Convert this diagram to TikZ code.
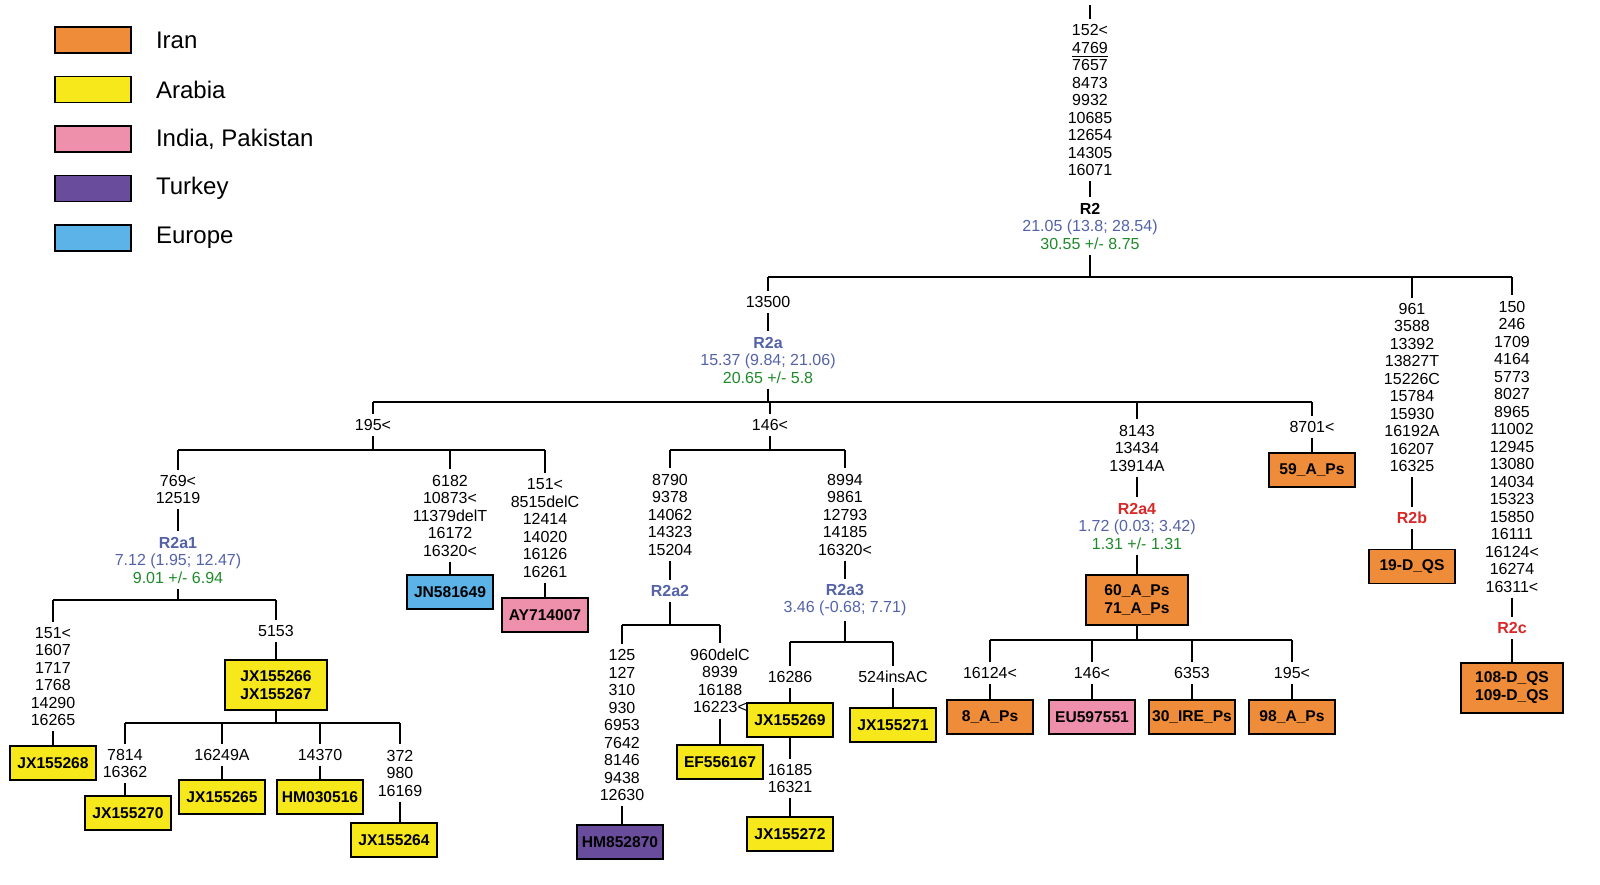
\documentclass[tikz,border=0pt]{standalone}
\usepackage{fontspec}
\setmainfont{Liberation Sans}
\usepackage{tikz}
\definecolor{iran}{HTML}{EE8C3A}
\definecolor{arabia}{HTML}{F7E81C}
\definecolor{india}{HTML}{EE90AC}
\definecolor{turkey}{HTML}{6A4C9C}
\definecolor{europe}{HTML}{5CB3E8}
\definecolor{statblue}{HTML}{5462A8}
\definecolor{statgreen}{HTML}{1F8A2A}
\definecolor{hapred}{HTML}{D82828}
\newcommand{\stats}[3]{#1\\\color{statblue}#2\\\color{statgreen}#3}
\begin{document}
\begin{tikzpicture}[x=0.5pt,y=-0.5pt,
  mut/.style={font=\fontsize{8}{8.75}\selectfont, align=center, inner sep=2pt},
  hap/.style={font=\fontsize{8}{8.75}\selectfont\bfseries, align=center, inner sep=2pt},
  box/.style={draw, thick, font=\fontsize{7.8}{9}\selectfont\bfseries, align=center,
    minimum width=43pt, minimum height=17pt, inner sep=1pt},
  leg/.style={draw, thick, minimum width=38pt, minimum height=13pt},
  every path/.style={line width=1.4pt}
  ]
  \useasboundingbox (0,0) rectangle (1600,884);

  % legend
  \foreach \c/\t [count=\i] in {iran/Iran, arabia/Arabia, india/{India, Pakistan}, turkey/Turkey, europe/Europe}{
    \node[leg, fill=\c] (leg\i) at (93,{40+49.5*(\i-1)}) {};
    \node[anchor=west, font=\fontsize{12}{14}\selectfont] (legt\i) at (148,{40+49.5*(\i-1)}) {\t};
  }

  % R2
  \coordinate (top) at (1090,5);
  \node[mut] (mR2) at (1090,100) {152<\\\underline{4769}\\7657\\8473\\9932\\10685\\12654\\14305\\16071};
  \node[hap] (R2) at (1090,226) {\stats{R2}{\mdseries 21.05 (13.8; 28.54)}{\mdseries 30.55 +/- 8.75}};
  \coordinate (b1) at (1090,277);
  \draw (top) -- (mR2);
  \draw (mR2) -- (R2);
  \draw (R2) -- (b1);

  % R2a
  \node[mut] (m13500) at (768,302) {13500};
  \node[hap] (R2a) at (768,360) {\stats{\color{statblue}R2a}{\mdseries 15.37 (9.84; 21.06)}{\mdseries 20.65 +/- 5.8}};
  \coordinate (b2) at (768,402);
  % R2b
  \node[mut] (mR2b) at (1412,387.5) {961\\3588\\13392\\13827T\\15226C\\15784\\15930\\16192A\\16207\\16325};
  \node[hap, text=hapred] (R2b) at (1412,518) {R2b};
  \node[box, fill=iran] (q19) at (1412,566.5) {19-D\_QS};
  % R2c
  \node[mut] (mR2c) at (1512,446.5) {150\\246\\1709\\4164\\5773\\8027\\8965\\11002\\12945\\13080\\14034\\15323\\15850\\16111\\16124<\\16274\\16311<};
  \node[hap, text=hapred] (R2c) at (1512,628) {R2c};
  \node[box, fill=iran, minimum width=51pt, minimum height=25pt] (q108) at (1512,688) {108-D\_QS\\109-D\_QS};

  \draw (m13500 |- b1) -- (mR2c |- b1);
  \draw (m13500 |- b1) -- (m13500);
  \draw (m13500) -- (R2a);
  \draw (R2a) -- (b2);
  \draw (mR2b |- b1) -- (mR2b);
  \draw (mR2b) -- (R2b);
  \draw (R2b) -- (q19);
  \draw (mR2c |- b1) -- (mR2c);
  \draw (mR2c) -- (R2c);
  \draw (R2c) -- (q108);

  % R2a children
  \node[mut] (m195) at (373,425) {195<};
  \node[mut] (m146) at (770,425) {146<};
  \node[mut] (mR2a4) at (1137,448) {8143\\13434\\13914A};
  \node[mut] (m8701) at (1312,427) {8701<};
  \draw (m195 |- b2) -- (m8701 |- b2);
  \foreach \n in {m195, m146, mR2a4, m8701}
    \draw (\n |- b2) -- (\n);

  % 195<
  \coordinate (b3) at (373,450);
  \node[mut] (mR2a1) at (178,489.5) {769<\\12519};
  \node[hap] (R2a1) at (178,560) {\stats{\color{statblue}R2a1}{\mdseries 7.12 (1.95; 12.47)}{\mdseries 9.01 +/- 6.94}};
  \node[mut] (m6182) at (450,515.5) {6182\\10873<\\11379delT\\16172\\16320<};
  \node[box, fill=europe] (JN581649) at (450,592) {JN581649};
  \node[mut] (m151) at (545,528) {151<\\8515delC\\12414\\14020\\16126\\16261};
  \node[box, fill=india] (AY714007) at (545,615) {AY714007};
  \draw (m195) -- (b3);
  \draw (mR2a1 |- b3) -- (m151 |- b3);
  \foreach \n in {mR2a1, m6182, m151}
    \draw (\n |- b3) -- (\n);
  \draw (mR2a1) -- (R2a1);
  \draw (m6182) -- (JN581649);
  \draw (m151) -- (AY714007);

  % R2a1
  \coordinate (b4) at (178,600);
  \node[mut] (m151b) at (53,676.5) {151<\\1607\\1717\\1768\\14290\\16265};
  \node[box, fill=arabia] (JX155268) at (53,763) {JX155268};
  \node[mut] (m5153) at (276,631) {5153};
  \node[box, fill=arabia, minimum width=51pt, minimum height=25pt] (JX155266) at (276,685) {JX155266\\JX155267};
  \coordinate (b5) at (276,723);
  \draw (R2a1) -- (b4);
  \draw (m151b |- b4) -- (m5153 |- b4);
  \draw (m151b |- b4) -- (m151b);
  \draw (m151b) -- (JX155268);
  \draw (m5153 |- b4) -- (m5153);
  \draw (m5153) -- (JX155266);
  \draw (JX155266) -- (b5);

  \node[mut] (m7814) at (125,763.5) {7814\\16362};
  \node[box, fill=arabia] (JX155270) at (128,813) {JX155270};
  \node[mut] (m16249) at (222,755) {16249A};
  \node[box, fill=arabia] (JX155265) at (222,797) {JX155265};
  \node[mut] (m14370) at (320,755) {14370};
  \node[box, fill=arabia] (HM030516) at (320,797) {HM030516};
  \node[mut] (m372) at (400,773) {372\\980\\16169};
  \node[box, fill=arabia] (JX155264) at (394,840) {JX155264};
  \draw (m7814 |- b5) -- (m372 |- b5);
  \foreach \n/\b in {m7814/JX155270, m16249/JX155265, m14370/HM030516, m372/JX155264}{
    \draw (\n |- b5) -- (\n);
    \draw (\n) -- (\n |- \b.north);
  }

  % 146<
  \coordinate (b6) at (770,450);
  \node[mut] (mR2a2) at (670,514.5) {8790\\9378\\14062\\14323\\15204};
  \node[hap, text=statblue] (R2a2) at (670,591) {R2a2};
  \node[mut] (mR2a3) at (845,514.5) {8994\\9861\\12793\\14185\\16320<};
  \node[hap, text=statblue] (R2a3) at (845,600) {R2a3\\\mdseries 3.46 (-0.68; 7.71)};
  \draw (m146) -- (b6);
  \draw (mR2a2 |- b6) -- (mR2a3 |- b6);
  \draw (mR2a2 |- b6) -- (mR2a2);
  \draw (mR2a2) -- (R2a2);
  \draw (mR2a3 |- b6) -- (mR2a3);
  \draw (mR2a3) -- (R2a3);

  % R2a2
  \coordinate (b7) at (670,625);
  \node[mut] (m125) at (622,725) {125\\127\\310\\930\\6953\\7642\\8146\\9438\\12630};
  \node[box, fill=turkey] (HM852870) at (620,842) {HM852870};
  \node[mut] (m960) at (720,681) {960delC\\8939\\16188\\16223<};
  \node[box, fill=arabia] (EF556167) at (720,762) {EF556167};
  \draw (R2a2) -- (b7);
  \draw (m125 |- b7) -- (m960 |- b7);
  \draw (m125 |- b7) -- (m125);
  \draw (m125) -- (m125 |- HM852870.north);
  \draw (m960 |- b7) -- (m960);
  \draw (m960) -- (EF556167);

  % R2a3
  \coordinate (b8) at (845,642);
  \node[mut] (m16286) at (790,677) {16286};
  \node[box, fill=arabia] (JX155269) at (790,720) {JX155269};
  \node[mut] (m16185) at (790,778.5) {16185\\16321};
  \node[box, fill=arabia] (JX155272) at (790,834) {JX155272};
  \node[mut] (m524) at (893,677) {524insAC};
  \node[box, fill=arabia] (JX155271) at (893,725) {JX155271};
  \draw (R2a3) -- (b8);
  \draw (m16286 |- b8) -- (m524 |- b8);
  \draw (m16286 |- b8) -- (m16286);
  \draw (m16286) -- (JX155269);
  \draw (JX155269) -- (m16185);
  \draw (m16185) -- (JX155272);
  \draw (m524 |- b8) -- (m524);
  \draw (m524) -- (JX155271);

  % R2a4
  \node[hap, text=hapred] (R2a4) at (1137,526) {\stats{R2a4}{\mdseries 1.72 (0.03; 3.42)}{\mdseries 1.31 +/- 1.31}};
  \node[box, fill=iran, minimum width=51pt, minimum height=25pt] (q60) at (1137,600) {60\_A\_Ps\\71\_A\_Ps};
  \coordinate (b9) at (1137,640);
  \draw (mR2a4) -- (R2a4);
  \draw (R2a4) -- (q60);
  \draw (q60) -- (b9);
  \foreach \x/\m/\t/\c [count=\i] in {990/16124</8\_A\_Ps/iran, 1092/146</EU597551/india, 1192/6353/30\_IRE\_Ps/iran, 1292/195</98\_A\_Ps/iran}{
    \node[mut] (l\i) at (\x,673) {\m};
    \node[box, fill=\c] (t\i) at (\x,717) {\t};
    \draw (l\i |- b9) -- (l\i);
    \draw (l\i) -- (t\i);
  }
  \draw (l1 |- b9) -- (l4 |- b9);

  % 8701<
  \node[box, fill=iran] (q59) at (1312,470) {59\_A\_Ps};
  \draw (m8701) -- (q59);

\end{tikzpicture}
\end{document}
